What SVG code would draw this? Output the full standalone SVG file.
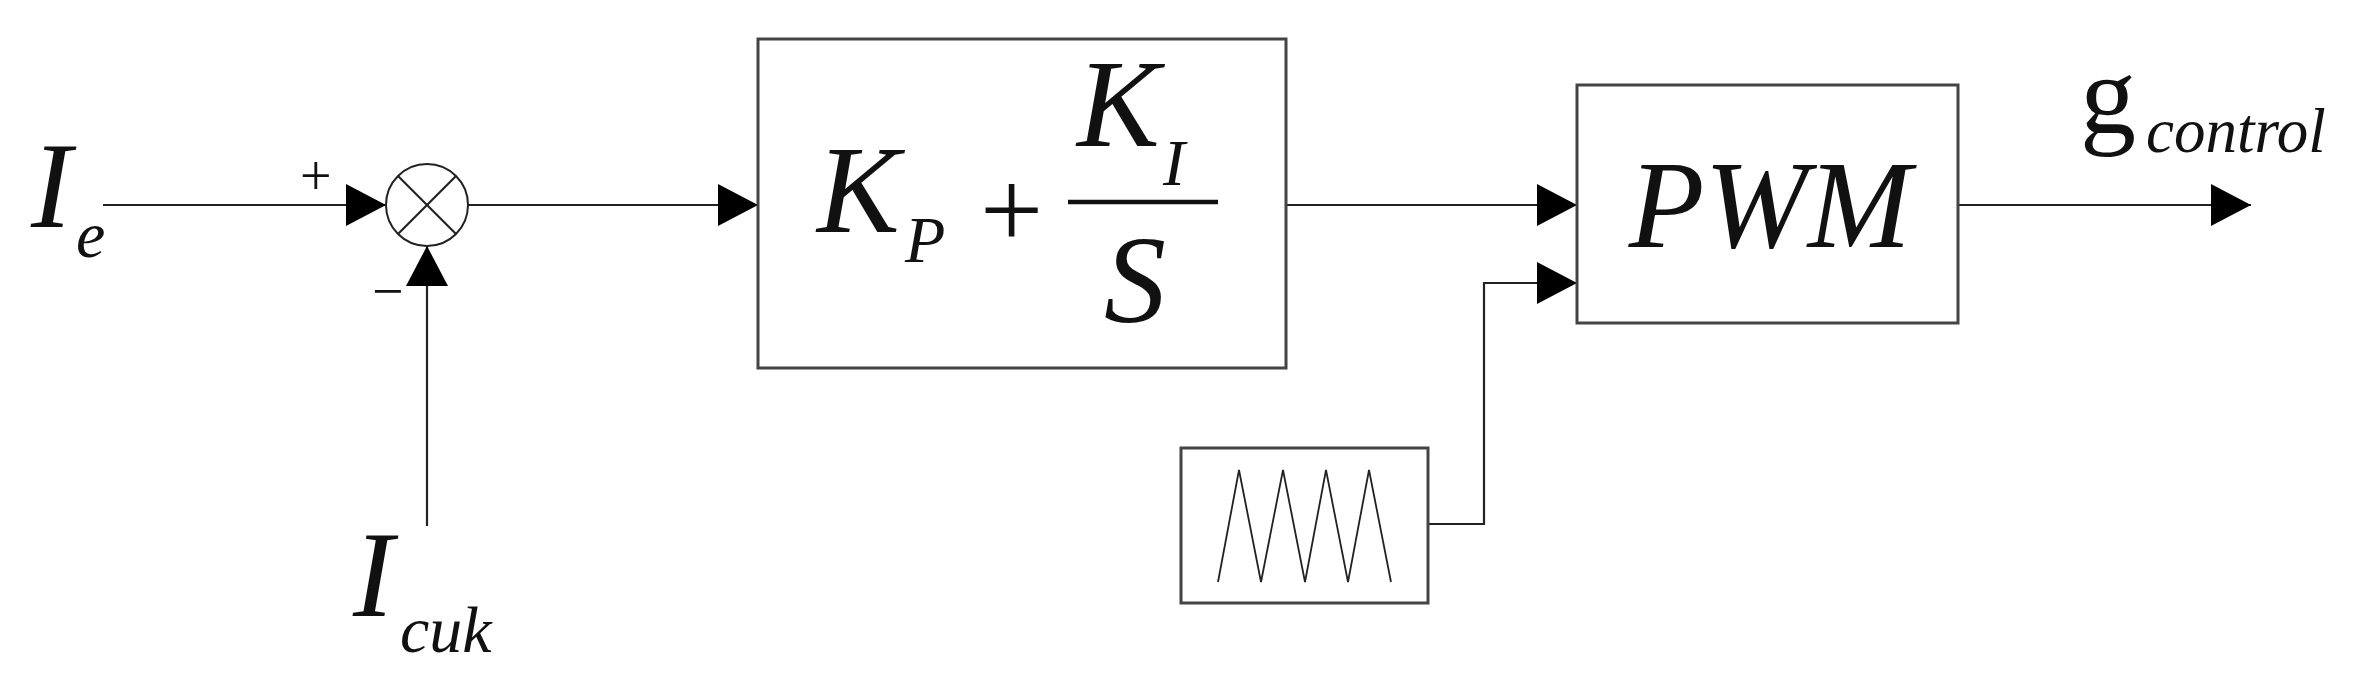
<svg xmlns="http://www.w3.org/2000/svg" width="2364" height="673" viewBox="0 0 2364 673">
<style>
.ln{stroke:#222;stroke-width:2.2;fill:none}
.bx{stroke:#444;stroke-width:3;fill:#fff}
.t{font-family:"Liberation Serif",serif;font-style:italic;fill:#111}
.u{font-family:"Liberation Serif",serif;fill:#111}
</style>
<defs>
<marker id="ah" markerWidth="42" markerHeight="42" refX="40" refY="21" orient="auto" markerUnits="userSpaceOnUse">
<path d="M0,0 L40,21 L0,42 Z" fill="#000"/>
</marker>
</defs>
<rect width="2364" height="673" fill="#fff"/>
<g id="connectors">
<line class="ln" x1="103" y1="205" x2="386" y2="205" marker-end="url(#ah)"/>
<line class="ln" x1="427" y1="526" x2="427" y2="246" marker-end="url(#ah)"/>
<line class="ln" x1="468" y1="205" x2="758" y2="205" marker-end="url(#ah)"/>
<line class="ln" x1="1286" y1="205" x2="1577" y2="205" marker-end="url(#ah)"/>
<polyline class="ln" points="1428,524 1484,524 1484,283 1577,283" marker-end="url(#ah)"/>
<line class="ln" x1="1958" y1="205" x2="2251" y2="205" marker-end="url(#ah)"/>
</g>
<g id="input-Ie">
<text class="t" x="31" y="227" font-size="122">I</text>
<text class="t" x="76" y="257" font-size="66">e</text>
</g>
<g id="sum">
<circle cx="427" cy="205" r="41" fill="#fff" stroke="#222" stroke-width="2"/>
<line class="ln" x1="398" y1="176" x2="456" y2="234" stroke-width="1.5"/>
<line class="ln" x1="456" y1="176" x2="398" y2="234" stroke-width="1.5"/>
<text class="u" x="300" y="195" font-size="56">+</text>
<text class="u" x="372" y="310" font-size="56">−</text>
</g>
<g id="input-Icuk">
<text class="t" x="353" y="616" font-size="122">I</text>
<text class="t" x="400" y="652" font-size="66">cuk</text>
</g>
<g id="pi">
<rect class="bx" x="758" y="39" width="528" height="329"/>
<text class="t" x="817" y="232" font-size="124">K</text>
<text class="t" x="905" y="262" font-size="66">P</text>
<text class="u" x="980" y="248" font-size="112">+</text>
<line x1="1068" y1="202" x2="1218" y2="202" stroke="#111" stroke-width="4.5"/>
<text class="t" x="1077" y="146" font-size="124">K</text>
<text class="t" x="1163" y="185" font-size="66">I</text>
<text class="t" x="1104" y="322" font-size="124">S</text>
</g>
<g id="pwm">
<rect class="bx" x="1577" y="85" width="381" height="238"/>
<text class="t" x="1770" y="247" font-size="124" text-anchor="middle">PWM</text>
</g>
<g id="carrier">
<rect class="bx" x="1181" y="448" width="247" height="155"/>
<polyline fill="none" stroke="#222" stroke-width="1.8" points="1218,582 1239,470 1261,582 1283,470 1305,582 1326,470 1348,582 1369,470 1391,582"/>
</g>
<g id="output">
<text class="u" x="2080" y="133" font-size="112">g</text>
<text class="t" x="2146" y="152" font-size="63">control</text>
</g>
</svg>
